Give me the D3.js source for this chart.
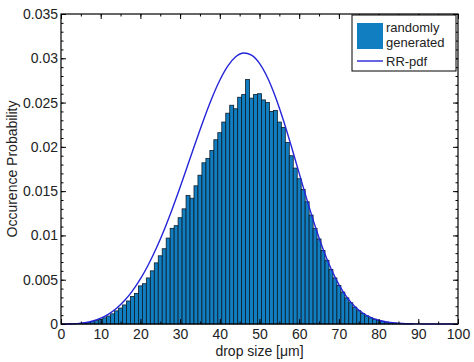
<!DOCTYPE html>
<html><head><meta charset="utf-8">
<script src="https://cdn.jsdelivr.net/npm/d3@7"></script>
<style>
html,body{margin:0;padding:0;background:#fff;}
svg{display:block;}
text{font-family:"Liberation Sans",Arial,sans-serif;fill:#222;}
</style></head>
<body>
<svg id="c" width="474" height="362"></svg>
<script>
// Histogram bins (centre, µm) and heights
const binCenters = [2,3,4,5,6,7,8,9,10,11,12,13,14,15,16,17,18,19,20,21,22,23,24,25,26,27,28,29,30,31,32,33,34,35,36,37,38,39,40,41,42,43,44,45,46,47,48,49,50,51,52,53,54,55,56,57,58,59,60,61,62,63,64,65,66,67,68,69,70,71,72,73,74,75,76,77,78,79,80,81,82,83,84,85,86,87,88];
const histValues = [0.00001,0.00002,0.00004,0.00006,0.00010,0.00017,0.00026,0.00038,0.00052,0.00070,0.00090,0.00115,0.00148,0.00180,0.00215,0.00260,0.00310,0.00345,0.00430,0.00455,0.00520,0.00600,0.00690,0.00770,0.00850,0.00970,0.01080,0.01110,0.01200,0.01300,0.01450,0.01420,0.01560,0.01680,0.01820,0.01870,0.01960,0.02080,0.02160,0.02280,0.02380,0.02470,0.02430,0.02560,0.02590,0.02760,0.02550,0.02590,0.02600,0.02530,0.02500,0.02400,0.02410,0.02280,0.02220,0.02050,0.01900,0.01760,0.01640,0.01520,0.01380,0.01230,0.01080,0.00960,0.00830,0.00720,0.00615,0.00520,0.00435,0.00360,0.00295,0.00240,0.00190,0.00150,0.00118,0.00092,0.00070,0.00054,0.00040,0.00030,0.00022,0.00015,0.00011,0.00007,0.00005,0.00003,0.00002];
// RR-pdf curve samples
const curveX = [0,2,4,6,8,10,12,14,16,18,20,22,24,26,28,30,32,34,36,38,40,42,44,46,48,50,52,54,56,58,60,62,64,66,68,70,72,74,76,78,80,82,84,86,88,90,92,94,96,98,100];
const curveY = [0,0.000005,0.00004,0.000141,0.000334,0.000652,0.001125,0.00178,0.002646,0.003743,0.005089,0.006692,0.00855,0.010651,0.012965,0.015446,0.018029,0.020633,0.023158,0.025491,0.027515,0.02911,0.030166,0.030601,0.030359,0.029424,0.027832,0.025663,0.02303,0.020092,0.017008,0.013952,0.011069,0.008479,0.006262,0.004448,0.003034,0.001981,0.001238,0.000737,0.000418,0.000225,0.000115,0.000055,0.000025,0.00001,0.000004,0,0,0,0];
const xTicks = [0,10,20,30,40,50,60,70,80,90,100];
const yTicks = [0,0.005,0.01,0.015,0.02,0.025,0.03,0.035];
const legendLabels = [["randomly","generated"],["RR-pdf"]];

const svg = d3.select("#c");
const L=61,R=458,T=14,B=324;
const x = d3.scaleLinear().domain([0,100]).range([L,R]);
const y = d3.scaleLinear().domain([0,0.035]).range([B,T]);

// bars
svg.append("g").selectAll("rect").data(binCenters.map((c,i)=>({c,v:histValues[i]})))
 .enter().append("rect")
 .attr("x",d=>x(d.c-0.5)).attr("width",d=>x(d.c+0.5)-x(d.c-0.5))
 .attr("y",d=>y(d.v)).attr("height",d=>y(0)-y(d.v))
 .attr("fill","#127ec2").attr("stroke","#0c1c28").attr("stroke-width",0.8);

// curve
const line = d3.line().x(d=>x(d[0])).y(d=>y(d[1])).curve(d3.curveMonotoneX);
svg.append("path").datum(curveX.map((v,i)=>[v,curveY[i]]))
 .attr("d",line).attr("fill","none").attr("stroke","#2424d8").attr("stroke-width",1.4);

// axes
const fmtY = d=> d===0?"0":String(+d.toFixed(3));
const minorX = d3.range(0,101,5);
const minorY = d3.range(0,0.03501,0.001);
function style(g){g.select(".domain").remove();g.selectAll("line").attr("stroke","#000").attr("stroke-width",1);}
svg.append("g").attr("transform",`translate(0,${B})`)
 .call(d3.axisBottom(x).tickValues(minorX).tickSize(-2.5).tickFormat("")).call(style);
svg.append("g").attr("transform",`translate(0,${B})`)
 .call(d3.axisBottom(x).tickValues(xTicks).tickSizeInner(-5).tickSizeOuter(0).tickPadding(5).tickFormat(d3.format("d")))
 .call(style).selectAll("text").attr("font-size",14).attr("fill","#222").attr("font-family","Liberation Sans, Arial, sans-serif");
svg.append("g").attr("transform",`translate(0,${T})`)
 .call(d3.axisTop(x).tickValues(minorX).tickSize(-2.5).tickFormat("")).call(style);
svg.append("g").attr("transform",`translate(0,${T})`)
 .call(d3.axisTop(x).tickValues(xTicks).tickSize(-5).tickFormat("")).call(style);
svg.append("g").attr("transform",`translate(${L},0)`)
 .call(d3.axisLeft(y).tickValues(minorY).tickSize(-2.5).tickFormat("")).call(style);
svg.append("g").attr("transform",`translate(${L},0)`)
 .call(d3.axisLeft(y).tickValues(yTicks).tickSizeInner(-5).tickSizeOuter(0).tickPadding(3).tickFormat(fmtY))
 .call(style).selectAll("text").attr("font-size",14).attr("fill","#222").attr("font-family","Liberation Sans, Arial, sans-serif");
svg.append("g").attr("transform",`translate(${R},0)`)
 .call(d3.axisRight(y).tickValues(minorY).tickSize(-2.5).tickFormat("")).call(style);
svg.append("g").attr("transform",`translate(${R},0)`)
 .call(d3.axisRight(y).tickValues(yTicks).tickSize(-5).tickFormat("")).call(style);

// frame
svg.append("rect").attr("x",L).attr("y",T).attr("width",R-L).attr("height",B-T)
 .attr("fill","none").attr("stroke","#000").attr("stroke-width",1.2);

// axis labels
svg.append("text").attr("x",(L+R)/2).attr("y",356).attr("text-anchor","middle")
 .attr("font-size",14).text("drop size [\u03bcm]");
svg.append("text").attr("transform",`translate(17,${(T+B)/2}) rotate(-90)`).attr("text-anchor","middle")
 .attr("font-size",14).text("Occurence Probability");

// legend
const lg = svg.append("g");
lg.append("rect").attr("x",352).attr("y",15).attr("width",104).attr("height",56)
 .attr("fill","#fff").attr("stroke","#000").attr("stroke-width",1);
lg.append("rect").attr("x",357).attr("y",23).attr("width",26).attr("height",26).attr("fill","#127ec2");
lg.append("text").attr("x",386).attr("y",31.5).attr("font-size",13).text(legendLabels[0][0]);
lg.append("text").attr("x",386).attr("y",46.5).attr("font-size",13).text(legendLabels[0][1]);
lg.append("line").attr("x1",357).attr("x2",383).attr("y1",61).attr("y2",61).attr("stroke","#2424d8").attr("stroke-width",1.4);
lg.append("text").attr("x",386).attr("y",65.5).attr("font-size",13).text(legendLabels[1][0]);
</script>
</body></html>
